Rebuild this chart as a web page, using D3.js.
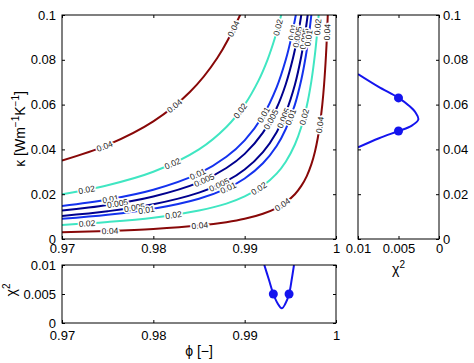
<!DOCTYPE html>
<html>
<head>
<meta charset="utf-8">
<script src="https://cdn.jsdelivr.net/npm/d3@7"></script>
<style>
  body { margin: 0; background: #fff; }
  svg { display: block; font-family: "Liberation Sans", Arial, sans-serif; }
</style>
</head>
<body>
<svg width="474" height="363"></svg>
<script>
// chi^2 contours over (phi, kappa) with the two 1-D cuts beside and below

const phiTicks = [0.97, 0.98, 0.99, 1];
const kappaTicks = [0, 0.02, 0.04, 0.06, 0.08, 0.1];
const chiTicks = [0, 0.005, 0.01];

// contour branches, [phi, kappa]
const redUpper = [[0.970, 0.0350], [0.975, 0.0420], [0.980, 0.0525], [0.984, 0.0656], [0.987, 0.0808], [0.9895, 0.1000], [0.9905, 0.1105]];
const cyanUpper = [[0.970, 0.0200], [0.975, 0.0240], [0.980, 0.0300], [0.985, 0.0400], [0.988, 0.0500], [0.990, 0.0600], [0.9915, 0.0706], [0.9925, 0.0800], [0.9933, 0.0896], [0.9940, 0.1000], [0.9946, 0.1110]];
const blueUpper = [[0.970, 0.0147], [0.975, 0.0176], [0.980, 0.0220], [0.985, 0.0293], [0.988, 0.0367], [0.990, 0.0440], [0.992, 0.0550], [0.9935, 0.0677], [0.9945, 0.0800], [0.9951, 0.0898], [0.9956, 0.1000], [0.9960, 0.1100]];
const navyUpper = [[0.970, 0.0127], [0.975, 0.0152], [0.980, 0.0190], [0.985, 0.0253], [0.988, 0.0317], [0.990, 0.0380], [0.992, 0.0475], [0.9935, 0.0585], [0.9945, 0.0691], [0.9953, 0.0809], [0.9958, 0.0905], [0.9962, 0.1000], [0.99655, 0.1100]];
const navyLower = [[0.970, 0.0103], [0.975, 0.0124], [0.980, 0.0155], [0.985, 0.0207], [0.988, 0.0258], [0.990, 0.0310], [0.992, 0.0388], [0.9935, 0.0477], [0.9945, 0.0564], [0.9955, 0.0689], [0.9962, 0.0816], [0.9966, 0.0912], [0.9969, 0.1000], [0.99718, 0.1100]];
const blueLower = [[0.970, 0.0090], [0.975, 0.0108], [0.980, 0.0135], [0.985, 0.0180], [0.988, 0.0225], [0.990, 0.0270], [0.992, 0.0338], [0.9935, 0.0415], [0.9945, 0.0491], [0.9955, 0.0600], [0.9962, 0.0711], [0.9967, 0.0818], [0.9970, 0.0900], [0.9973, 0.1000], [0.99755, 0.1100]];
const cyanLower = [[0.970, 0.0063], [0.975, 0.0076], [0.980, 0.0095], [0.985, 0.0127], [0.988, 0.0158], [0.990, 0.0190], [0.992, 0.0238], [0.9935, 0.0292], [0.9945, 0.0345], [0.9955, 0.0422], [0.9962, 0.0500], [0.9968, 0.0594], [0.9973, 0.0704], [0.9977, 0.0826], [0.9979, 0.0905], [0.9981, 0.1000], [0.99827, 0.1100]];
const redLower = [[0.970, 0.0030], [0.975, 0.0036], [0.980, 0.0045], [0.985, 0.0060], [0.988, 0.0075], [0.990, 0.0090], [0.992, 0.0113], [0.9935, 0.0138], [0.9945, 0.0164], [0.9955, 0.0200], [0.9962, 0.0237], [0.9968, 0.0281], [0.9973, 0.0333], [0.9977, 0.0391], [0.9980, 0.0450], [0.9982, 0.0500], [0.9985, 0.0600], [0.9987, 0.0692], [0.9989, 0.0818], [0.9990, 0.0900], [0.9991, 0.1000], [0.99918, 0.1100]];

const branchLevels = [0.04, 0.02, 0.01, 0.005, 0.005, 0.01, 0.02, 0.04];

// where the inline labels sit, [phi, kappa], one list per branch
const labelSpots = [
  [[0.9747, 0.0406], [0.9824, 0.0589], [0.9887, 0.0938]],
  [[0.9727, 0.0214], [0.9822, 0.0330], [0.9895, 0.0571], [0.9939, 0.0940]],
  [[0.9753, 0.0174], [0.9849, 0.0286], [0.9920, 0.0554], [0.9953, 0.0924]],
  [[0.9761, 0.0161], [0.9857, 0.0254], [0.9926, 0.0540], [0.9957, 0.0902]],
  [[0.9780, 0.0134], [0.9873, 0.0232], [0.9944, 0.0540], [0.9963, 0.0897]],
  [[0.9793, 0.0116], [0.9884, 0.0210], [0.9952, 0.0540], [0.9966, 0.0897]],
  [[0.9727, 0.0058], [0.9822, 0.0098], [0.9917, 0.0219], [0.9966, 0.0545], [0.9980, 0.0946]],
  [[0.9753, 0.0031], [0.9851, 0.0058], [0.9942, 0.0147], [0.9982, 0.0509], [0.9990, 0.0924]]
];

// kappa cut (right panel)
const cutKappa = [0.0409, 0.0450, 0.0482, 0.0505, 0.0534, 0.0565, 0.0595, 0.0630, 0.0680, 0.0736];
const cutKappaChi = [0.0100, 0.0074, 0.0050, 0.0034, 0.00255, 0.0029, 0.0037, 0.0050, 0.0075, 0.0100];
const kappaMarks = [0.0482, 0.0630];

// phi cut (bottom panel)
const cutPhi = [0.99215, 0.99265, 0.99314, 0.99360, 0.99406, 0.99445, 0.99486, 0.99515, 0.99540];
const cutPhiChi = [0.0100, 0.0075, 0.0050, 0.0034, 0.00253, 0.0033, 0.0050, 0.0075, 0.0100];
const phiMarks = [0.99314, 0.99486];
const markChi = 0.005;

const levelColor = { 0.005: "#00008e", 0.01: "#1432ee", 0.02: "#40e6c2", 0.04: "#880808" };
const cutColor = "#1414ee";

const svg = d3.select("svg");
const mainBox = { left: 62, right: 336, top: 15, bottom: 239 };
const sideBox = { left: 358, right: 439, top: 15, bottom: 239 };
const lowBox = { left: 62, right: 336, top: 265, bottom: 323 };

const x = d3.scaleLinear().domain([0.97, 1]).range([mainBox.left, mainBox.right]);
const y = d3.scaleLinear().domain([0, 0.1]).range([mainBox.bottom, mainBox.top]);
const xSide = d3.scaleLinear().domain([0.01, 0]).range([sideBox.left, sideBox.right]);
const yLow = d3.scaleLinear().domain([0, 0.01]).range([lowBox.bottom, lowBox.top]);

const fmt = (d) => String(d);

const addClip = (id, b) => {
  svg.append("clipPath").attr("id", id)
    .append("rect")
    .attr("x", b.left).attr("y", b.top)
    .attr("width", b.right - b.left).attr("height", b.bottom - b.top);
};
addClip("clipMain", mainBox);
addClip("clipSide", sideBox);
addClip("clipLow", lowBox);

// axes: inward ticks on all four sides, labels where asked
const drawAxes = (b, xs, ys, xTicks, yTicks, yOnRight, xPad) => {
  const g = svg.append("g").attr("font-size", 13);
  const style = (sel) => {
    sel.select(".domain").remove();
    sel.selectAll("text").attr("fill", "#000").attr("font-size", 13);
    sel.selectAll("line").attr("stroke", "#000");
  };
  g.append("g").attr("transform", `translate(0,${b.bottom})`)
    .call(d3.axisBottom(xs).tickValues(xTicks).tickSizeInner(-3).tickSizeOuter(0).tickPadding(xPad).tickFormat(fmt))
    .call(style).attr("font-family", null);
  g.append("g").attr("transform", `translate(0,${b.top})`)
    .call(d3.axisTop(xs).tickValues(xTicks).tickSizeInner(-3).tickSizeOuter(0).tickFormat(""))
    .call(style).attr("font-family", null);
  g.append("g").attr("transform", `translate(${b.left},0)`)
    .call(d3.axisLeft(ys).tickValues(yTicks).tickSizeInner(-3).tickSizeOuter(0).tickPadding(6)
      .tickFormat(yOnRight ? "" : fmt))
    .call(style).attr("font-family", null);
  g.append("g").attr("transform", `translate(${b.right},0)`)
    .call(d3.axisRight(ys).tickValues(yTicks).tickSizeInner(-3).tickSizeOuter(0).tickPadding(4)
      .tickFormat(yOnRight ? fmt : ""))
    .call(style).attr("font-family", null);
  g.append("rect")
    .attr("x", b.left).attr("y", b.top)
    .attr("width", b.right - b.left).attr("height", b.bottom - b.top)
    .attr("fill", "none").attr("stroke", "#000").attr("stroke-width", 1);
};

// ---- main contour panel
const contourBranches = [redUpper, cyanUpper, blueUpper, navyUpper, navyLower, blueLower, cyanLower, redLower];

const line = d3.line()
  .x((d) => x(d[0]))
  .y((d) => y(d[1]))
  .curve(d3.curveCatmullRom.alpha(0.5));

const contourG = svg.append("g").attr("clip-path", "url(#clipMain)");
const labelG = svg.append("g");

contourBranches.forEach((pts, i) => {
  const level = branchLevels[i];
  const path = contourG.append("path")
    .attr("d", line(pts))
    .attr("fill", "none")
    .attr("stroke", levelColor[level])
    .attr("stroke-width", 2);

  const node = path.node();
  const len = node.getTotalLength();
  labelSpots[i].forEach(([p, k]) => {
    const tx = x(p), ty = y(k);
    let best = 0, bestD = Infinity;
    for (let l = 0; l <= len; l += 1) {
      const pt = node.getPointAtLength(l);
      const d = (pt.x - tx) ** 2 + (pt.y - ty) ** 2;
      if (d < bestD) { bestD = d; best = l; }
    }
    const a = node.getPointAtLength(Math.max(0, best - 4));
    const c = node.getPointAtLength(Math.min(len, best + 4));
    let ang = Math.atan2(c.y - a.y, c.x - a.x) * 180 / Math.PI;
    if (ang > 90) ang -= 180;
    if (ang < -90) ang += 180;
    const at = node.getPointAtLength(best);
    labelG.append("text")
      .attr("transform", `translate(${at.x},${at.y}) rotate(${ang})`)
      .attr("text-anchor", "middle")
      .attr("dominant-baseline", "central")
      .attr("font-size", 8.5)
      .attr("fill", "#222")
      .attr("stroke", "#fff")
      .attr("stroke-width", 3)
      .attr("paint-order", "stroke")
      .text(fmt(level));
  });
});

drawAxes(mainBox, x, y, phiTicks, kappaTicks, false, 5);

const kLabel = svg.append("text")
  .attr("transform", `translate(25,${(mainBox.top + mainBox.bottom) / 2 + 2}) rotate(-90)`)
  .attr("text-anchor", "middle")
  .attr("font-size", 14);
kLabel.append("tspan").text("κ [Wm");
kLabel.append("tspan").attr("font-size", 10).attr("dy", -6).text("−1");
kLabel.append("tspan").attr("dy", 6).text("K");
kLabel.append("tspan").attr("font-size", 10).attr("dy", -6).text("−1");
kLabel.append("tspan").attr("dy", 6).text("]");

// ---- right panel: chi^2 against kappa
const sideG = svg.append("g").attr("clip-path", "url(#clipSide)");
sideG.append("path")
  .attr("d", d3.line()
    .x((d, i) => xSide(cutKappaChi[i]))
    .y((d) => y(d))
    .curve(d3.curveCatmullRom.alpha(0.5))(cutKappa))
  .attr("fill", "none")
  .attr("stroke", cutColor)
  .attr("stroke-width", 2);
sideG.selectAll("circle").data(kappaMarks).enter().append("circle")
  .attr("cx", xSide(markChi))
  .attr("cy", (d) => y(d))
  .attr("r", 4.5)
  .attr("fill", cutColor);

drawAxes(sideBox, xSide, y, chiTicks, kappaTicks, true, 5);

const sideLabel = svg.append("text")
  .attr("x", (sideBox.left + sideBox.right) / 2)
  .attr("y", 274)
  .attr("text-anchor", "middle")
  .attr("font-size", 14);
sideLabel.append("tspan").text("χ");
sideLabel.append("tspan").attr("font-size", 10).attr("dy", -6).text("2");

// ---- bottom panel: chi^2 against phi
const lowG = svg.append("g").attr("clip-path", "url(#clipLow)");
lowG.append("path")
  .attr("d", d3.line()
    .x((d) => x(d))
    .y((d, i) => yLow(cutPhiChi[i]))
    .curve(d3.curveCatmullRom.alpha(0.5))(cutPhi))
  .attr("fill", "none")
  .attr("stroke", cutColor)
  .attr("stroke-width", 2);
lowG.selectAll("circle").data(phiMarks).enter().append("circle")
  .attr("cx", (d) => x(d))
  .attr("cy", yLow(markChi))
  .attr("r", 4.5)
  .attr("fill", cutColor);

drawAxes(lowBox, x, yLow, phiTicks, chiTicks, false, 8);

const lowYLabel = svg.append("text")
  .attr("transform", `translate(16,${(lowBox.top + lowBox.bottom) / 2 - 4}) rotate(-90)`)
  .attr("text-anchor", "middle")
  .attr("font-size", 14);
lowYLabel.append("tspan").text("χ");
lowYLabel.append("tspan").attr("font-size", 10).attr("dy", -6).text("2");

svg.append("text")
  .attr("x", (lowBox.left + lowBox.right) / 2)
  .attr("y", 356)
  .attr("text-anchor", "middle")
  .attr("font-size", 14)
  .text("ϕ [−]");
</script>
</body>
</html>
